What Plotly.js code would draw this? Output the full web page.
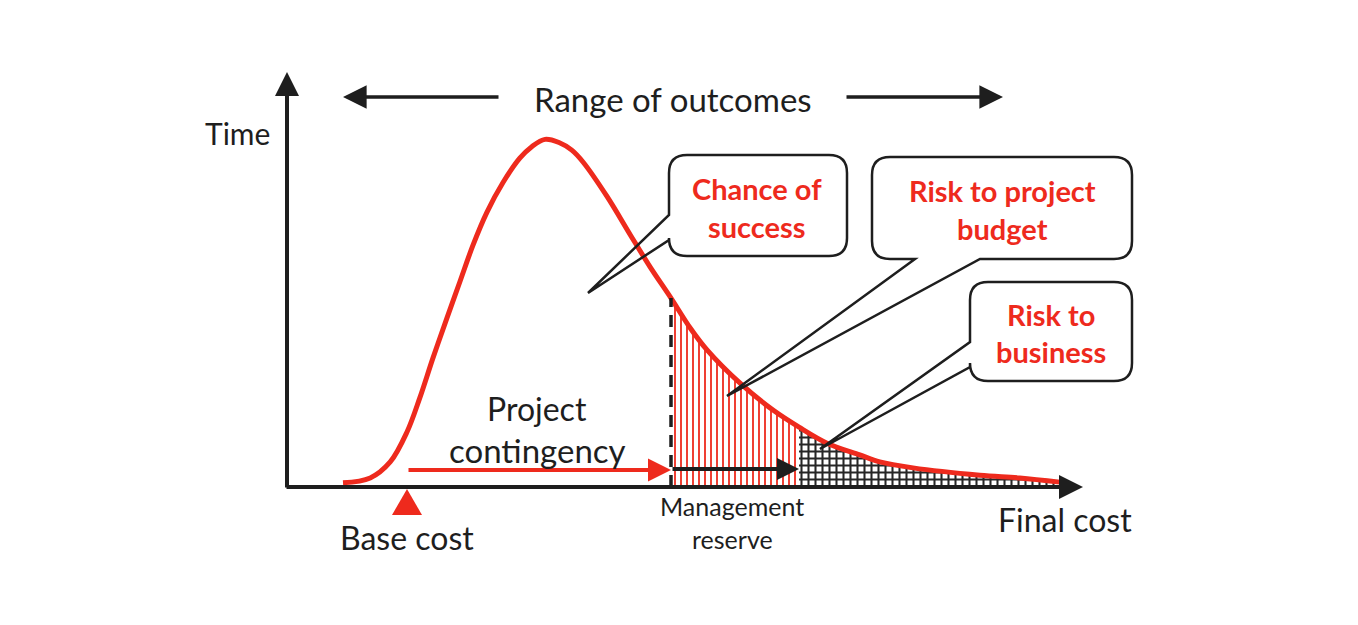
<!DOCTYPE html>
<html>
<head>
<meta charset="utf-8">
<script src="https://cdn.plot.ly/plotly-3.0.1.min.js"></script>
<style>html,body{margin:0;padding:0;background:#fff;}#chart{width:1358px;height:625px;}</style>
</head>
<body>
<div id="chart"></div>
<script>
// ---- Data (cost units on x, relative probability density on y, peak = 100) ----
const cost    = [7, 10.4, 12.9, 15, 16.6, 18.25, 20, 21.6, 23.25, 25, 27, 29.1, 30.6, 32.25, 34, 35.6, 37, 40, 42.9, 45.4, 48, 50.4, 52.5, 56.6, 60.75, 64, 67.5, 71.6, 74.1, 78.25, 86.6, 91.6, 96.6];
const density = [1.2, 2.6, 7.2, 15.8, 25.6, 37.1, 48.6, 58.9, 69.5, 79.0, 87.5, 94.5, 97.8, 99.9, 99.0, 96.8, 93.4, 83.5, 72.5, 63.2, 54.3, 45.7, 39.4, 29.9, 22.1, 17.2, 12.6, 9.2, 7.2, 5.5, 3.4, 2.6, 1.4];
const baseCost = 15;
const contingencyEnd = 48;
const reserveEnd = 64;
const labels = {
  yTitle: "Time", xTitle: "Final cost", range: "Range of outcomes",
  base: "Base cost", contingency: ["Project", "contingency"], reserve: ["Management", "reserve"],
  success: ["Chance of", "success"], budget: ["Risk to project", "budget"], business: ["Risk to", "business"]
};

// ---- Layout helpers (page pixel -> data units) ----
const PX0 = 287, PY0 = 487, SX = 8, SY = 3.48;
const X = px => (px - PX0) / SX;
const Y = py => (PY0 - py) / SY;
const RED = '#ee2a1d', INK = '#1e1e1e', FONT = 'Lato, "Open Sans", sans-serif';

function between(a, b) {
  const xs = [], ys = [];
  cost.forEach((c, i) => { if (c >= a && c <= b) { xs.push(c); ys.push(density[i]); } });
  return {xs, ys};
}
const budgetArea = between(contingencyEnd, reserveEnd);
const businessArea = between(reserveEnd, Infinity);
const atContEnd = density[cost.indexOf(contingencyEnd)];

const traces = [
  {x: budgetArea.xs, y: budgetArea.ys, type: 'scatter', mode: 'lines', fill: 'tozeroy',
   line: {width: 0, shape: 'spline', color: RED}, fillcolor: 'rgba(0,0,0,0)',
   fillpattern: {shape: '|', fgcolor: RED, bgcolor: '#ffffff', size: 6, solidity: 0.3}, hoverinfo: 'skip'},
  {x: businessArea.xs, y: businessArea.ys, type: 'scatter', mode: 'lines', fill: 'tozeroy',
   line: {width: 0, shape: 'spline', color: INK}, fillcolor: 'rgba(0,0,0,0)',
   fillpattern: {shape: '+', fgcolor: '#262626', bgcolor: '#ffffff', size: 7, solidity: 0.5}, hoverinfo: 'skip'},
  {x: cost, y: density, type: 'scatter', mode: 'lines',
   line: {color: RED, width: 5, shape: 'spline', smoothing: 1}, hoverinfo: 'skip'}
];

function callout(x0, y0, x1, y1, r, tail) {
  const P = (px, py) => X(px) + ',' + Y(py);
  let d = 'M' + P(x0 + r, y0) + ' L' + P(x1 - r, y0) + ' Q' + P(x1, y0) + ' ' + P(x1, y0 + r) +
          ' L' + P(x1, y1 - r) + ' Q' + P(x1, y1) + ' ' + P(x1 - r, y1);
  if (tail.side === 'bottom') {
    d += ' L' + P(tail.b, y1) + ' L' + P(tail.tip[0], tail.tip[1]) + ' L' + P(tail.a, y1);
  }
  d += ' L' + P(x0 + r, y1) + ' Q' + P(x0, y1) + ' ' + P(x0, y1 - r);
  if (tail.side === 'left') {
    d += ' L' + P(x0, tail.b) + ' L' + P(tail.tip[0], tail.tip[1]) + ' L' + P(x0, tail.a);
  }
  d += ' L' + P(x0, y0 + r) + ' Q' + P(x0, y0) + ' ' + P(x0 + r, y0) + ' Z';
  return {type: 'path', path: d, xref: 'x', yref: 'y', line: {color: INK, width: 2.5},
          fillcolor: 'rgba(0,0,0,0)', layer: 'above'};
}

const shapes = [
  {type: 'line', xref: 'x', yref: 'y', x0: contingencyEnd, x1: contingencyEnd, y0: 0, y1: atContEnd,
   line: {color: INK, width: 3.5, dash: '12px,8px'}, layer: 'above'},
  {type: 'path', xref: 'x', yref: 'y',
   path: 'M' + (baseCost - 15 / SX) + ',' + Y(515) + ' L' + (baseCost + 15 / SX) + ',' + Y(515) + ' L' + baseCost + ',' + Y(489) + ' Z',
   fillcolor: RED, line: {width: 0}, layer: 'above'},
  callout(669, 155, 847, 256, 18, {side: 'left', a: 215, b: 240, tip: [588, 293]}),
  callout(872, 157, 1132, 259, 18, {side: 'bottom', a: 915, b: 980, tip: [727, 396]}),
  callout(970, 282, 1132, 381, 18, {side: 'left', a: 342, b: 367, tip: [820, 449]})
];

function arrow(x, y, ax, ay, color, w, size) {
  return {x, y, ax, ay, xref: 'x', yref: 'y', axref: 'x', ayref: 'y', text: '', showarrow: true,
          arrowhead: 2, arrowsize: size, arrowwidth: w, arrowcolor: color, standoff: 0, startstandoff: 0};
}
function label(px, py, text, size, color, bold) {
  return {x: X(px), y: Y(py), xref: 'x', yref: 'y', text: bold ? '<b>' + text + '</b>' : text,
          showarrow: false, xanchor: 'center', yanchor: 'middle',
          font: {family: FONT, size, color}};
}

const annotations = [
  arrow(0, Y(72), 0, Y(489), INK, 4, 1.2),
  arrow(X(1083), 0, X(285), 0, INK, 4, 1.2),
  arrow(X(343), Y(97), X(500), Y(97), INK, 3.5, 1.35),
  arrow(X(1003), Y(97), X(845), Y(97), INK, 3.5, 1.35),
  arrow(contingencyEnd, Y(470), baseCost, Y(470), RED, 4, 1.15),
  arrow(reserveEnd, Y(469), contingencyEnd, Y(469), INK, 4, 1.1),
  label(237, 133, labels.yTitle, 30, INK),
  label(673, 99, labels.range, 33, INK),
  label(1065, 519, labels.xTitle, 32, INK),
  label(407, 537, labels.base, 32, INK),
  label(537, 408, labels.contingency[0], 32, INK),
  label(537, 450, labels.contingency[1], 33, INK),
  label(732, 506, labels.reserve[0], 25, INK),
  label(732, 539, labels.reserve[1], 25, INK),
  label(757, 188, labels.success[0], 29, RED, true),
  label(757, 226, labels.success[1], 29, RED, true),
  label(1002, 190, labels.budget[0], 29, RED, true),
  label(1002, 228, labels.budget[1], 29, RED, true),
  label(1051, 314, labels.business[0], 29, RED, true),
  label(1051, 351, labels.business[1], 29, RED, true)
];

const layout = {
  width: 1358, height: 625, autosize: false,
  margin: {l: 0, r: 0, t: 0, b: 0, pad: 0},
  paper_bgcolor: '#ffffff', plot_bgcolor: '#ffffff', showlegend: false,
  xaxis: {range: [X(0), X(1358)], visible: false, fixedrange: true},
  yaxis: {range: [Y(625), Y(0)], visible: false, fixedrange: true},
  shapes, annotations
};
Plotly.newPlot('chart', traces, layout, {staticPlot: true, displayModeBar: false});
</script>
</body>
</html>
